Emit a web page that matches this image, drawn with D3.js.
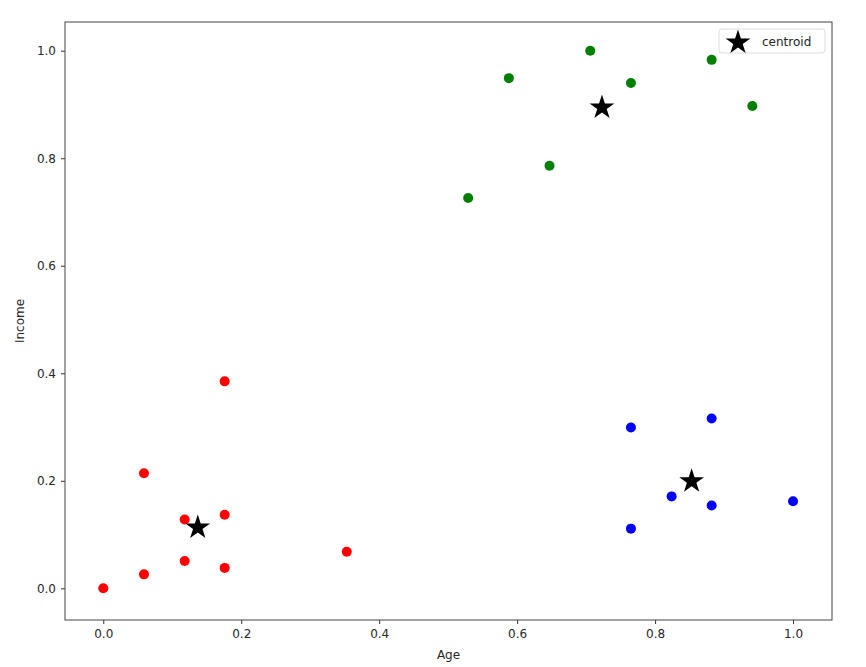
<!DOCTYPE html>
<html><head><meta charset="utf-8">
<script src="https://cdn.jsdelivr.net/npm/d3@7"></script>
<style>body{margin:0;background:#fff}svg{display:block}text{font-family:"DejaVu Sans",sans-serif}</style>
</head><body><svg id="c" width="866" height="667"></svg>
<script>
// Cluster 0 (green)
const greenAge    = [0.941, 0.765, 0.882, 0.706, 0.588, 0.529, 0.647];
const greenIncome = [0.897, 0.940, 0.983, 1.000, 0.949, 0.726, 0.786];
// Cluster 1 (red)
const redAge    = [0.059, 0.176, 0.176, 0.118, 0.000, 0.059, 0.118, 0.176, 0.353];
const redIncome = [0.214, 0.385, 0.137, 0.128, 0.000, 0.026, 0.051, 0.038, 0.068];
// Cluster 2 (blue)
const blueAge    = [0.824, 0.882, 1.000, 0.765, 0.882, 0.765];
const blueIncome = [0.171, 0.154, 0.162, 0.299, 0.316, 0.111];
// Centroids
const centroidAge    = [0.723, 0.137, 0.853];
const centroidIncome = [0.897, 0.116, 0.202];
const xTicks = [0.0, 0.2, 0.4, 0.6, 0.8, 1.0];
const yTicks = [0.0, 0.2, 0.4, 0.6, 0.8, 1.0];

const svg = d3.select("#c");
const L = 65, R = 832, T = 22, B = 620;
const x = d3.scaleLinear().domain([-0.0555, 1.0565]).range([L, R]);
const y = d3.scaleLinear().domain([-0.0589, 1.0534]).range([B, T]);

const fmt = d3.format(".1f");
const xa = svg.append("g").attr("transform", `translate(0,${B})`)
  .call(d3.axisBottom(x).tickValues(xTicks).tickFormat(fmt).tickSize(4).tickPadding(5));
const ya = svg.append("g").attr("transform", `translate(${L},0)`)
  .call(d3.axisLeft(y).tickValues(yTicks).tickFormat(fmt).tickSize(4).tickPadding(5));
[xa, ya].forEach(a => {
  a.select(".domain").remove();
  a.selectAll("line").attr("stroke", "#333");
  a.selectAll("text").attr("font-size", 12).attr("fill", "#262626");
});
svg.append("rect").attr("x", L).attr("y", T).attr("width", R - L).attr("height", B - T)
  .attr("fill", "none").attr("stroke", "#444").attr("stroke-width", 1);

function dots(ax, ay, col) {
  svg.append("g").selectAll("circle").data(ax.map((v, i) => [v, ay[i]])).join("circle")
    .attr("cx", d => x(d[0])).attr("cy", d => y(d[1])).attr("r", 5).attr("fill", col);
}
dots(greenAge, greenIncome, "#008000");
dots(redAge, redIncome, "#ff0000");
dots(blueAge, blueIncome, "#0000ff");

function starPath(Ro) {
  const Ri = Ro * 0.381966, pts = [];
  for (let k = 0; k < 10; k++) {
    const r = k % 2 ? Ri : Ro, a = -Math.PI / 2 + k * Math.PI / 5;
    pts.push([r * Math.cos(a), r * Math.sin(a)]);
  }
  return "M" + pts.map(p => p.join(",")).join("L") + "Z";
}
svg.append("g").selectAll("path").data(centroidAge.map((v, i) => [v, centroidIncome[i]])).join("path")
  .attr("d", starPath(13)).attr("transform", d => `translate(${x(d[0])},${y(d[1]) + 1.5})`)
  .attr("fill", "#000");

// legend
const lg = svg.append("g");
lg.append("rect").attr("x", 719).attr("y", 29).attr("width", 106).attr("height", 24).attr("rx", 3)
  .attr("fill", "#fff").attr("stroke", "#ddd");
lg.append("path").attr("d", starPath(13)).attr("transform", "translate(738,42.5)").attr("fill", "#000");
lg.append("text").attr("x", 762).attr("y", 45.5).attr("font-size", 12).attr("fill", "#262626").text("centroid");

svg.append("text").attr("x", (L + R) / 2).attr("y", 659).attr("text-anchor", "middle")
  .attr("font-size", 12).attr("fill", "#262626").text("Age");
svg.append("text").attr("transform", `translate(24,${(T + B) / 2}) rotate(-90)`).attr("text-anchor", "middle")
  .attr("font-size", 12).attr("fill", "#262626").text("Income");
</script></body></html>
